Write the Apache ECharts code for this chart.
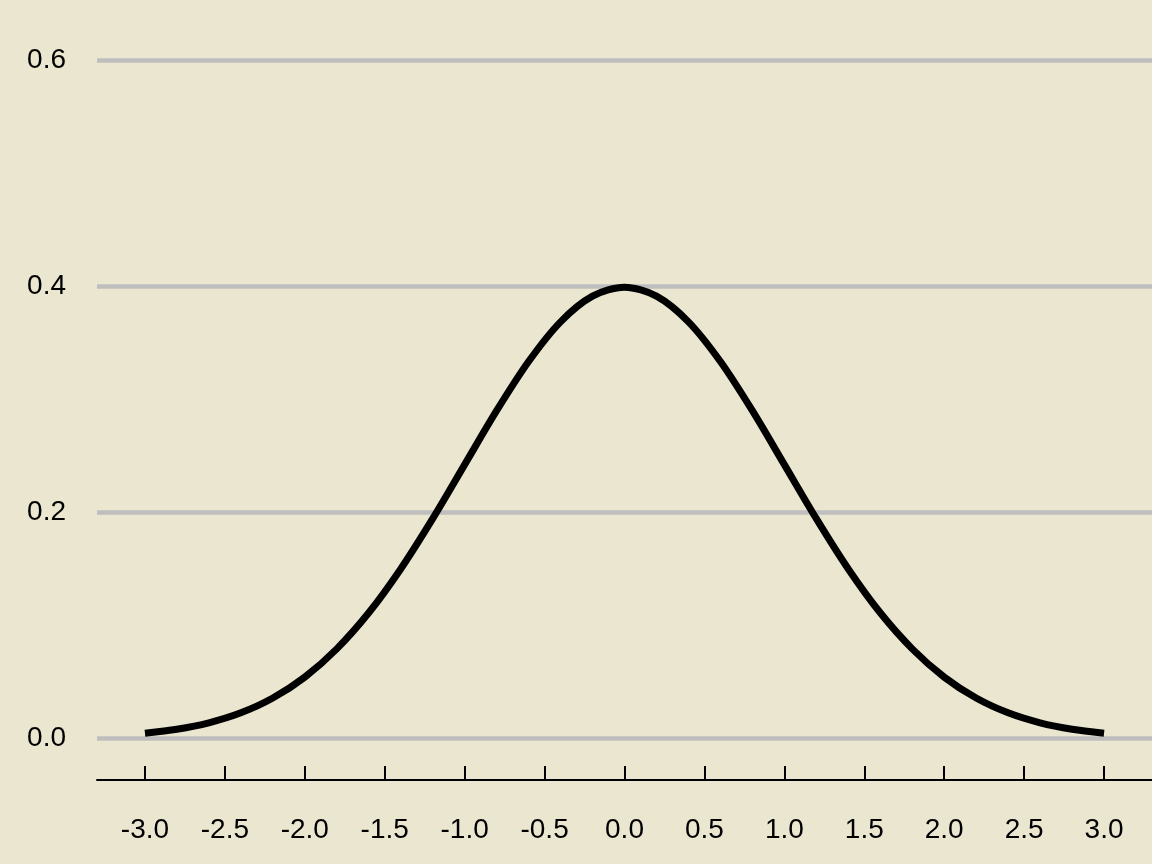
<!DOCTYPE html>
<html>
<head>
<meta charset="utf-8">
<script src="https://cdn.jsdelivr.net/npm/echarts@6/dist/echarts.min.js"></script>
<style>
html, body { margin: 0; padding: 0; background: #EAE6D0; }
#chart { width: 1152px; height: 864px; }
</style>
</head>
<body>
<div id="chart"></div>
<script>
// curve
var xs = [-3.0, -2.8, -2.6, -2.4, -2.2, -2.0, -1.8, -1.6, -1.4, -1.2, -1.0, -0.8, -0.6, -0.4, -0.2,
          0.0, 0.2, 0.4, 0.6, 0.8, 1.0, 1.2, 1.4, 1.6, 1.8, 2.0, 2.2, 2.4, 2.6, 2.8, 3.0];
var density = [0.0044, 0.0079, 0.0136, 0.0224, 0.0355, 0.0540, 0.0790, 0.1109, 0.1497, 0.1942, 0.2420,
               0.2897, 0.3332, 0.3683, 0.3910, 0.3989, 0.3910, 0.3683, 0.3332, 0.2897, 0.2420, 0.1942,
               0.1497, 0.1109, 0.0790, 0.0540, 0.0355, 0.0224, 0.0136, 0.0079, 0.0044];
var xTicks = [-3.0, -2.5, -2.0, -1.5, -1.0, -0.5, 0.0, 0.5, 1.0, 1.5, 2.0, 2.5, 3.0];
var yTicks = [0.0, 0.2, 0.4, 0.6];

var chart = echarts.init(document.getElementById('chart'));

var pts = xs.map(function (x, i) { return [x, density[i]]; });

chart.setOption({
    backgroundColor: '#EAE6D0',
    animation: false,
    grid: { left: 97, right: 0, top: 26, bottom: 84 },
    xAxis: {
        type: 'value',
        min: -3.3,
        max: 3.3,
        axisLine: { show: true, onZero: false, lineStyle: { color: '#000', width: 2 } },
        axisTick: { show: true, inside: true, length: 14, customValues: xTicks, lineStyle: { color: '#000', width: 2 } },
        axisLabel: {
            customValues: xTicks,
            margin: 36,
            color: '#000',
            fontSize: 28,
            fontFamily: 'Liberation Sans, Arial, sans-serif',
            formatter: function (v) { return v.toFixed(1); }
        },
        splitLine: { show: false }
    },
    yAxis: {
        type: 'value',
        min: -0.037,
        max: 0.63,
        axisLine: { show: false },
        axisTick: { show: false, customValues: yTicks },
        axisLabel: {
            customValues: yTicks,
            margin: 31,
            color: '#000',
            fontSize: 28,
            fontFamily: 'Liberation Sans, Arial, sans-serif',
            formatter: function (v) { return v.toFixed(1); }
        },
        splitLine: { show: true, lineStyle: { color: '#BEBEBE', width: 4.5 } }
    },
    series: [{
        type: 'line',
        data: pts,
        smooth: 0.3,
        showSymbol: false,
        lineStyle: { color: '#000', width: 7, cap: 'butt' }
    }]
});
</script>
</body>
</html>
